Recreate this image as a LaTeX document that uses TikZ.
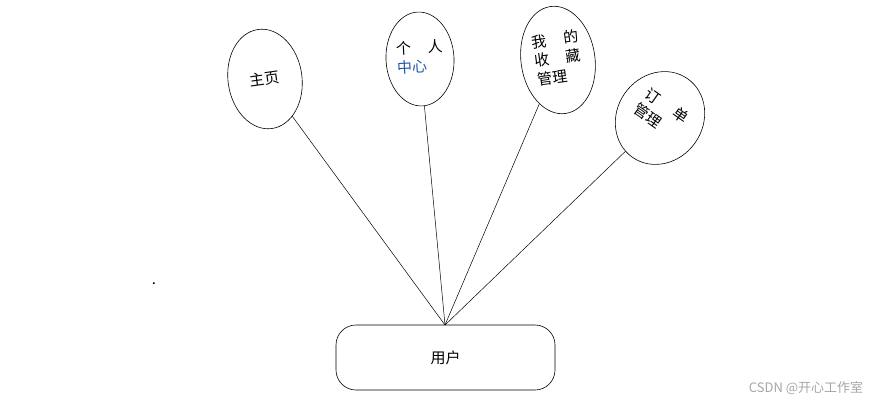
\documentclass[tikz,border=0pt]{standalone}
\usepackage{fontspec}
\newfontfamily\cjk{Noto Sans CJK SC}
\usetikzlibrary{shapes.geometric}
\begin{document}
\begin{tikzpicture}[x=1pt,y=-1pt,font=\cjk\fontsize{15}{19}\selectfont,
  bub/.style={draw,ellipse,inner sep=0pt,line width=0.6pt},
  conn/.style={line width=0.5pt}]
\useasboundingbox (0,0) rectangle (885,404);
\node[bub,minimum width=74pt,minimum height=100pt,rotate=8] (e1) at (265,79) {主页};
\node[bub,minimum width=68pt,minimum height=94pt,rotate=3] (e2) at (420,59) {\begin{tabular}{@{}l@{}}个\hspace{1.1em}人\\\textcolor[RGB]{30,90,170}{中心}\end{tabular}};
\node[bub,minimum width=74pt,minimum height=108pt,rotate=8] (e3) at (558,60) {\begin{tabular}{@{}l@{}}我\hspace{1.1em}的\\收\hspace{1.1em}藏\\管理\end{tabular}};
\node[bub,minimum width=86pt,minimum height=96pt,rotate=-35] (e4) at (660,118) {};
\node[rotate=-35,inner sep=0pt] (t4) at (660,115) {\begin{tabular}{@{}l@{}}订\hspace{1.3em}单\\管理\end{tabular}};
\node[draw,rounded corners=20pt,minimum width=219pt,minimum height=65pt,line width=0.6pt] (u) at (445.5,357.5) {用户};
\coordinate (t) at (445,325);
\draw[conn] (t) -- (e1);
\draw[conn] (t) -- (e2);
\draw[conn] (t) -- (e3);
\draw[conn] (t) -- (e4);
\node[inner sep=0pt] (dot) at (154,284) {.};
\node[text=gray!70,font=\cjk\fontsize{13}{15}\selectfont] (wm) at (806,388) {CSDN @开心工作室};
\end{tikzpicture}
\end{document}
